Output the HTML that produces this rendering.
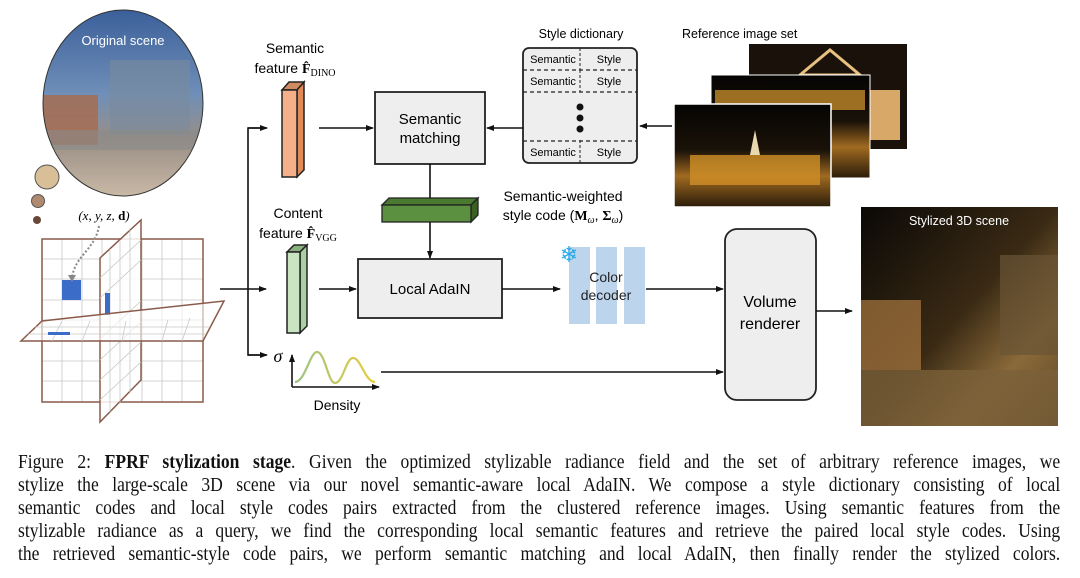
<!DOCTYPE html>
<html><head><meta charset="utf-8"><style>
body{margin:0;background:#fff;width:1080px;height:578px;overflow:hidden;position:relative;font-family:"Liberation Sans",sans-serif}
svg{position:absolute;left:0;top:0}
.cap{position:absolute;left:18px;top:451px;width:1158px;transform:scaleX(0.9);transform-origin:0 0;font-family:"Liberation Serif",serif;font-size:19.5px;line-height:23px;color:#111}
.cap div{text-align:justify;text-align-last:justify}
</style></head><body>
<svg width="1080" height="440" viewBox="0 0 1080 440">
<defs>
<marker id="a" markerWidth="8" markerHeight="8" refX="7" refY="4" orient="auto" markerUnits="userSpaceOnUse"><path d="M0,1 L8,4 L0,7 z" fill="#111"/></marker>
<linearGradient id="sky" x1="0" y1="0" x2="0" y2="1"><stop offset="0" stop-color="#3b5f9a"/><stop offset="0.45" stop-color="#6f8fb8"/><stop offset="0.7" stop-color="#9a8f86"/><stop offset="1" stop-color="#c9b9a6"/></linearGradient>
<linearGradient id="night" x1="0" y1="0" x2="0" y2="1"><stop offset="0" stop-color="#050403"/><stop offset="0.45" stop-color="#1a1208"/><stop offset="0.7" stop-color="#a06a20"/><stop offset="1" stop-color="#2a1c0a"/></linearGradient>
<linearGradient id="styl" x1="0" y1="0" x2="1" y2="1"><stop offset="0" stop-color="#0a0806"/><stop offset="0.5" stop-color="#3a2a14"/><stop offset="0.75" stop-color="#8a6a3a"/><stop offset="1" stop-color="#5a4424"/></linearGradient>
<linearGradient id="dens" x1="0" x2="1"><stop offset="0" stop-color="#9cc48a"/><stop offset="1" stop-color="#e6cc3a"/></linearGradient>
<clipPath id="ec"><ellipse cx="123" cy="103" rx="80" ry="93"/></clipPath>
</defs>
<ellipse cx="123" cy="103" rx="80" ry="93" fill="url(#sky)"/>
<g clip-path="url(#ec)">
<rect x="40" y="95" width="58" height="50" fill="#a86a4e" opacity="0.8"/>
<rect x="110" y="60" width="80" height="75" fill="#7a8a9c" opacity="0.6"/>
<rect x="40" y="130" width="170" height="20" fill="#8a8a88" opacity="0.6"/>
</g>
<ellipse cx="123" cy="103" rx="80" ry="93" fill="none" stroke="#333" stroke-width="1"/>
<text x="123" y="45" font-size="13" fill="#fff" text-anchor="middle">Original scene</text>
<circle cx="47" cy="177" r="12" fill="#d8bf98" stroke="#555" stroke-width="1"/>
<circle cx="38" cy="201" r="6.5" fill="#b08a70" stroke="#555" stroke-width="1"/>
<circle cx="37" cy="220" r="4" fill="#6a4838"/>
<text x="104" y="220" font-size="13" font-family="Liberation Serif" font-style="italic" text-anchor="middle">(x, y, z, <tspan font-weight="bold" font-style="normal">d</tspan>)</text>
<g stroke="#c8c8c8" stroke-width="0.8">
<path d="M62,239V402M82,239V402M102,239V402M122,239V402M142,239V402M162,239V402M182,239V402M42,259H203M42,279H203M42,300H203M42,320H203M42,361H203M42,381H203"/>
</g>
<rect x="62" y="280" width="19" height="20" fill="#3a6cc8"/>
<rect x="42" y="239" width="161" height="163" fill="none" stroke="#8a5a4a" stroke-width="1.5"/>
<polygon points="100,258 141,220 141,380 100,422" fill="#fff" fill-opacity="0.85" stroke="#8a5a4a" stroke-width="1.5"/>
<path d="M110,249V412M120,240V403M130,230V393M100,278L141,240M100,298L141,260M100,339L141,301M100,360L141,322M100,380L141,342M100,400L141,362" stroke="#c8c8c8" stroke-width="0.8"/>
<rect x="105" y="293" width="5" height="22" fill="#3a6cc8"/>
<polygon points="21,341 203,341 224,301 42,321" fill="#fff" fill-opacity="0.6" stroke="#8a5a4a" stroke-width="1.5"/>
<path d="M28,334H206M35,327H210M52,341L62,321M82,341L90,321M122,341L126,321M162,341L168,320M182,341L190,318" stroke="#c8c8c8" stroke-width="0.8"/>
<rect x="48" y="332" width="22" height="3" fill="#3a6cc8"/>
<path d="M99,226 C95,250 75,255 72,278" stroke="#888" stroke-width="2" stroke-dasharray="2,2" fill="none"/>
<path d="M68,275 L72,282 L76,275z" fill="#888"/>
<line x1="220" y1="289" x2="266" y2="289" stroke="#111" stroke-width="1.6" marker-end="url(#a)"/>
<polyline points="266,128 248,128 248,355 266,355" fill="none" stroke="#111" stroke-width="1.6"/>
<line x1="248" y1="128" x2="267" y2="128" stroke="#111" stroke-width="1.6" marker-end="url(#a)"/>
<line x1="248" y1="355" x2="267" y2="355" stroke="#111" stroke-width="1.6" marker-end="url(#a)"/>
<text x="295" y="53" font-size="14" text-anchor="middle">Semantic</text>
<text x="295" y="73" font-size="14" text-anchor="middle">feature <tspan font-family="Liberation Serif" font-weight="bold">F̂</tspan><tspan font-family="Liberation Serif" font-size="10" dy="3">DINO</tspan></text>
<polygon points="282,90 289,82 304,82 297,90" fill="#d08a60" stroke="#222" stroke-width="1.5"/>
<polygon points="297,90 304,82 304,170 297,177" fill="#e08a5a" stroke="#222" stroke-width="1.5"/>
<rect x="282" y="90" width="15" height="87" fill="#f5b08a" stroke="#222" stroke-width="1.5"/>
<text x="298" y="218" font-size="14" text-anchor="middle">Content</text>
<text x="298" y="238" font-size="14" text-anchor="middle">feature <tspan font-family="Liberation Serif" font-weight="bold">F̂</tspan><tspan font-family="Liberation Serif" font-size="10" dy="3">VGG</tspan></text>
<polygon points="287,252 294,245 307,245 300,252" fill="#8ab080" stroke="#222" stroke-width="1.5"/>
<polygon points="300,252 307,245 307,326 300,333" fill="#a8d0a0" stroke="#222" stroke-width="1.5"/>
<rect x="287" y="252" width="13" height="81" fill="#c8e4c0" stroke="#222" stroke-width="1.5"/>
<line x1="319" y1="128" x2="373" y2="128" stroke="#111" stroke-width="1.6" marker-end="url(#a)"/>
<line x1="319" y1="289" x2="356" y2="289" stroke="#111" stroke-width="1.6" marker-end="url(#a)"/>
<rect x="375" y="92" width="110" height="72" fill="#eee" stroke="#222" stroke-width="1.8"/>
<text x="430" y="124" font-size="15" text-anchor="middle">Semantic</text>
<text x="430" y="143" font-size="15" text-anchor="middle">matching</text>
<line x1="430" y1="164" x2="430" y2="198" stroke="#111" stroke-width="1.6"/>
<polygon points="382,205 389,198 478,198 471,205" fill="#4a7a30" stroke="#222" stroke-width="1.3"/>
<polygon points="471,205 478,198 478,215 471,222" fill="#3a6024" stroke="#222" stroke-width="1.3"/>
<rect x="382" y="205" width="89" height="17" fill="#5a9040" stroke="#222" stroke-width="1.3"/>
<line x1="430" y1="222" x2="430" y2="258" stroke="#111" stroke-width="1.6" marker-end="url(#a)"/>
<rect x="358" y="259" width="144" height="59" fill="#eee" stroke="#222" stroke-width="1.8"/>
<text x="430" y="294" font-size="15" text-anchor="middle">Local AdaIN</text>
<line x1="502" y1="289" x2="560" y2="289" stroke="#111" stroke-width="1.6" marker-end="url(#a)"/>
<text x="563" y="201" font-size="14" text-anchor="middle">Semantic-weighted</text>
<text x="563" y="220" font-size="14" text-anchor="middle">style code (<tspan font-family="Liberation Serif" font-weight="bold">M</tspan><tspan font-family="Liberation Serif" font-size="10" font-style="italic" dy="3">ω</tspan><tspan dy="-3">, </tspan><tspan font-family="Liberation Serif" font-weight="bold">Σ</tspan><tspan font-family="Liberation Serif" font-size="10" font-style="italic" dy="3">ω</tspan><tspan dy="-3">)</tspan></text>
<text x="581" y="38" font-size="12.5" text-anchor="middle">Style dictionary</text>
<rect x="523" y="48" width="114" height="115" rx="6" fill="#eee" stroke="#222" stroke-width="1.8"/>
<line x1="580" y1="48" x2="580" y2="72" stroke="#222" stroke-width="1" stroke-dasharray="3,2"/>
<line x1="580" y1="140" x2="580" y2="163" stroke="#222" stroke-width="1" stroke-dasharray="3,2"/>
<line x1="523" y1="70" x2="637" y2="70" stroke="#222" stroke-width="1.2" stroke-dasharray="4,3"/>
<line x1="523" y1="92" x2="637" y2="92" stroke="#222" stroke-width="1.2" stroke-dasharray="4,3"/>
<line x1="523" y1="141" x2="637" y2="141" stroke="#222" stroke-width="1.2" stroke-dasharray="4,3"/>
<line x1="580" y1="70" x2="580" y2="92" stroke="#222" stroke-width="1" stroke-dasharray="3,2"/>
<g font-size="11" text-anchor="middle"><text x="553" y="63">Semantic</text><text x="609" y="63">Style</text><text x="553" y="85">Semantic</text><text x="609" y="85">Style</text><text x="553" y="156">Semantic</text><text x="609" y="156">Style</text></g>
<circle cx="580" cy="107" r="3.5" fill="#111"/><circle cx="580" cy="118" r="3.5" fill="#111"/><circle cx="580" cy="129" r="3.5" fill="#111"/>
<line x1="523" y1="128" x2="487" y2="128" stroke="#111" stroke-width="1.6" marker-end="url(#a)"/>
<line x1="672" y1="126" x2="640" y2="126" stroke="#111" stroke-width="1.6" marker-end="url(#a)"/>
<text x="682" y="38" font-size="12.5">Reference image set</text>
<rect x="749" y="44" width="158" height="105" fill="#1a120a"/>
<polygon points="800,75 830,50 860,75" fill="none" stroke="#e8c080" stroke-width="3"/>
<rect x="870" y="90" width="30" height="50" fill="#d8a868"/>
<rect x="711" y="75" width="159" height="103" fill="url(#night)" stroke="#fff" stroke-width="1"/>
<rect x="715" y="90" width="150" height="20" fill="#d89a30" opacity="0.7"/>
<rect x="674" y="104" width="157" height="103" fill="url(#night)" stroke="#fff" stroke-width="1.5"/>
<rect x="690" y="155" width="130" height="30" fill="#d09028" opacity="0.8"/>
<polygon points="750,155 755,130 760,155" fill="#e8d8b0"/>
<rect x="569" y="247" width="21" height="77" fill="#bcd4ec"/>
<rect x="596" y="247" width="21" height="77" fill="#bcd4ec"/>
<rect x="624" y="247" width="21" height="77" fill="#bcd4ec"/>
<text x="569" y="262" font-size="22" fill="#2aa8e8" text-anchor="middle">❄</text>
<text x="606" y="282" font-size="14" text-anchor="middle" fill="#222">Color</text>
<text x="606" y="300" font-size="14" text-anchor="middle" fill="#222">decoder</text>
<line x1="646" y1="289" x2="723" y2="289" stroke="#111" stroke-width="1.6" marker-end="url(#a)"/>
<text x="278" y="362" font-size="18" font-family="Liberation Serif" font-style="italic" text-anchor="middle">σ</text>
<line x1="292" y1="387" x2="292" y2="355" stroke="#111" stroke-width="1.6" marker-end="url(#a)"/>
<line x1="292" y1="387" x2="379" y2="387" stroke="#111" stroke-width="1.6" marker-end="url(#a)"/>
<path d="M295,382 C305,382 310,352 317,352 C325,352 328,383 335,383 C343,383 346,358 353,358 C361,358 365,382 375,382" fill="none" stroke="url(#dens)" stroke-width="2.2"/>
<text x="337" y="410" font-size="14" text-anchor="middle">Density</text>
<line x1="381" y1="372" x2="723" y2="372" stroke="#111" stroke-width="1.6" marker-end="url(#a)"/>
<rect x="725" y="229" width="91" height="171" rx="12" fill="#eee" stroke="#222" stroke-width="1.8"/>
<text x="770" y="307" font-size="16" text-anchor="middle">Volume</text>
<text x="770" y="329" font-size="16" text-anchor="middle">renderer</text>
<line x1="816" y1="311" x2="852" y2="311" stroke="#111" stroke-width="1.6" marker-end="url(#a)"/>
<rect x="861" y="207" width="197" height="219" fill="url(#styl)"/>
<rect x="861" y="300" width="60" height="70" fill="#a87840" opacity="0.7"/>
<rect x="1000" y="255" width="58" height="100" fill="#6a5434" opacity="0.7"/>
<rect x="861" y="370" width="197" height="56" fill="#7a603a" opacity="0.8"/>
<text x="959" y="225" font-size="12.5" fill="#fff" text-anchor="middle">Stylized 3D scene</text>
</svg>
<div class="cap">
<div>Figure 2: <b>FPRF stylization stage</b>. Given the optimized stylizable radiance field and the set of arbitrary reference images, we</div>
<div>stylize the large-scale 3D scene via our novel semantic-aware local AdaIN. We compose a style dictionary consisting of local</div>
<div>semantic codes and local style codes pairs extracted from the clustered reference images. Using semantic features from the</div>
<div>stylizable radiance as a query, we find the corresponding local semantic features and retrieve the paired local style codes. Using</div>
<div>the retrieved semantic-style code pairs, we perform semantic matching and local AdaIN, then finally render the stylized colors.</div>
</div>
</body></html>
